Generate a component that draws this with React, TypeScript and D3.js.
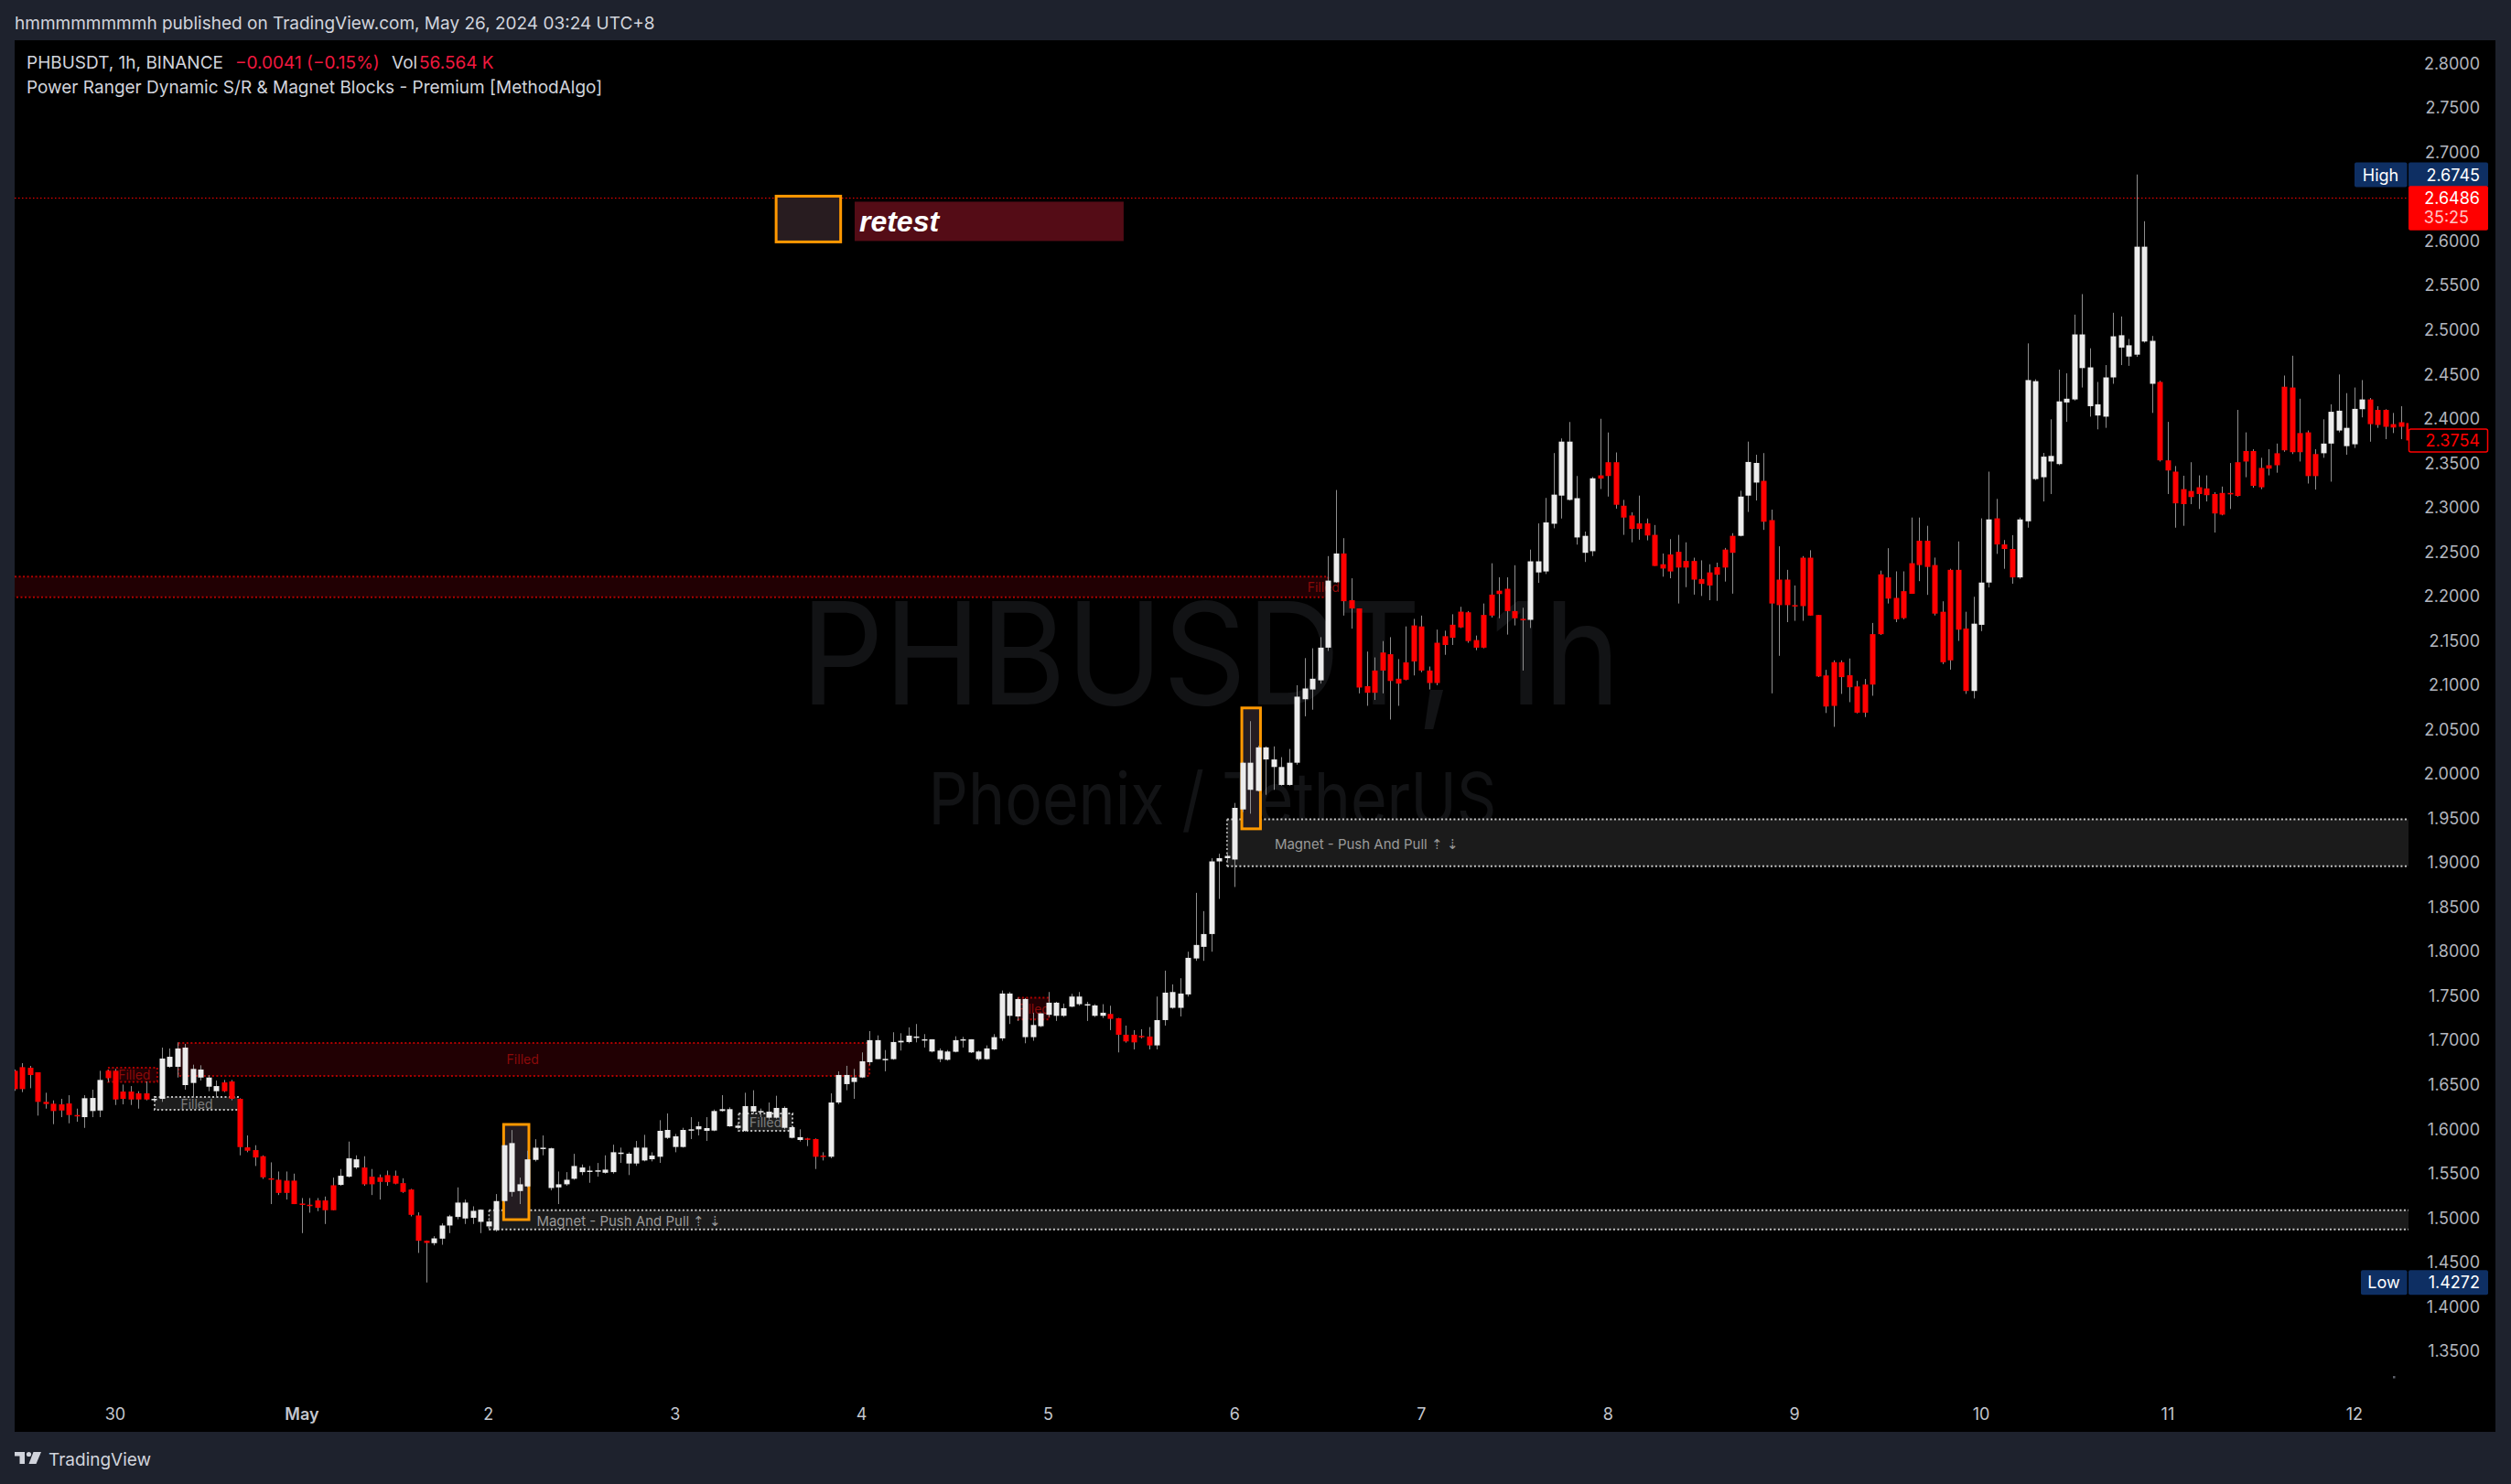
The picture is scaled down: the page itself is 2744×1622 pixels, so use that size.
import React, { useEffect } from 'react';
import * as d3 from 'd3';

// ---------- DATA (1h candles, [open, high, low, close]) ----------
const apr29 = [
  [1.645, 1.667, 1.643, 1.6656], [1.6697, 1.6742, 1.6416, 1.645], [1.6608, 1.6711, 1.646, 1.669],
  [1.6639, 1.6639, 1.6151, 1.6306], [1.6306, 1.6409, 1.623, 1.6282], [1.6285, 1.6323, 1.6055, 1.6203],
  [1.6209, 1.634, 1.6134, 1.6278], [1.6288, 1.6381, 1.6065, 1.6158], [1.6158, 1.623, 1.6082, 1.6151],
  [1.6134, 1.6381, 1.6013, 1.6347], [1.635, 1.6443, 1.6134, 1.6203], [1.6209, 1.6656, 1.6134, 1.6553],
  [1.6574, 1.6667, 1.6529, 1.6656],
];
const apr30 = [
  [1.6656, 1.6677, 1.6271, 1.6333], [1.634, 1.6501, 1.6278, 1.6422], [1.6422, 1.6484, 1.6271, 1.6333],
  [1.6333, 1.6426, 1.623, 1.6402], [1.6402, 1.6536, 1.6323, 1.6333], [1.6335, 1.6357, 1.6306, 1.634],
  [1.634, 1.6917, 1.6306, 1.6794], [1.6814, 1.6907, 1.669, 1.6701], [1.6701, 1.6976, 1.658, 1.6907],
  [1.6917, 1.6958, 1.6443, 1.6495], [1.6519, 1.6725, 1.6357, 1.6677], [1.667, 1.6718, 1.6546, 1.658],
  [1.658, 1.6608, 1.6426, 1.6477], [1.6484, 1.6546, 1.6357, 1.6426], [1.6426, 1.6553, 1.6416, 1.6525],
  [1.6536, 1.6553, 1.6323, 1.634], [1.634, 1.6347, 1.5704, 1.5797], [1.5794, 1.5928, 1.5739, 1.5756],
  [1.5763, 1.5818, 1.5584, 1.568], [1.5694, 1.5704, 1.5439, 1.5457], [1.5445, 1.5625, 1.5155, 1.5439],
  [1.5429, 1.5522, 1.5257, 1.5281], [1.5281, 1.5522, 1.5206, 1.5419], [1.5419, 1.5498, 1.5155, 1.5155],
];
const may1 = [
  [1.5161, 1.5223, 1.4828, 1.5155], [1.5148, 1.5223, 1.5058, 1.5144], [1.5113, 1.5223, 1.5075, 1.5196],
  [1.5196, 1.524, 1.4931, 1.5086], [1.5086, 1.5453, 1.5086, 1.5367], [1.5371, 1.555, 1.5361, 1.5474],
  [1.5464, 1.5859, 1.5453, 1.567], [1.5659, 1.5704, 1.555, 1.5567], [1.5567, 1.5694, 1.5361, 1.5378],
  [1.5378, 1.555, 1.5257, 1.5464], [1.5457, 1.5488, 1.5206, 1.5405], [1.5402, 1.5532, 1.5361, 1.5481],
  [1.5474, 1.5532, 1.5378, 1.5385], [1.5391, 1.5446, 1.5281, 1.5292], [1.5319, 1.5326, 1.5017, 1.5034],
  [1.5027, 1.5062, 1.4605, 1.4742], [1.4742, 1.4745, 1.4272, 1.4718], [1.4715, 1.4794, 1.469, 1.4769],
  [1.4766, 1.4938, 1.4697, 1.4914], [1.4914, 1.5034, 1.4828, 1.5017], [1.501, 1.5343, 1.4983, 1.5172],
  [1.5172, 1.5206, 1.4931, 1.4993], [1.5, 1.513, 1.4931, 1.5079], [1.5092, 1.5096, 1.4828, 1.4955],
];
const may2 = [
  [1.4959, 1.5, 1.4862, 1.4904], [1.4862, 1.5268, 1.4845, 1.5189], [1.5189, 1.5824, 1.5172, 1.5818],
  [1.5842, 1.5989, 1.524, 1.5292], [1.5302, 1.5453, 1.5155, 1.5378], [1.5354, 1.5756, 1.5343, 1.5659],
  [1.5653, 1.5886, 1.5635, 1.579], [1.579, 1.5928, 1.5704, 1.5783], [1.5783, 1.579, 1.5309, 1.5336],
  [1.5343, 1.5522, 1.5155, 1.5378], [1.5378, 1.5515, 1.5361, 1.5429], [1.544, 1.5721, 1.5429, 1.5584],
  [1.5567, 1.5601, 1.5481, 1.5515], [1.5532, 1.5584, 1.5395, 1.5529], [1.5532, 1.5618, 1.5464, 1.5535],
  [1.5508, 1.5704, 1.5498, 1.5543], [1.5515, 1.5824, 1.5498, 1.5739], [1.5735, 1.5791, 1.5619, 1.5729],
  [1.5722, 1.5739, 1.5482, 1.5612], [1.5612, 1.5866, 1.5585, 1.5791], [1.5791, 1.5935, 1.5636, 1.5646],
  [1.566, 1.5739, 1.5636, 1.5701], [1.5688, 1.61, 1.5619, 1.598], [1.599, 1.6176, 1.5887, 1.5901],
];
const may3 = [
  [1.5918, 1.5945, 1.5739, 1.5798], [1.5798, 1.6014, 1.5791, 1.599], [1.5983, 1.6134, 1.5887, 1.5997],
  [1.5997, 1.6083, 1.5928, 1.6031], [1.6011, 1.6134, 1.5866, 1.598], [1.5983, 1.622, 1.5976, 1.6203],
  [1.6203, 1.6382, 1.6196, 1.6224], [1.6224, 1.6244, 1.6025, 1.6031], [1.6038, 1.6073, 1.5997, 1.6014],
  [1.598, 1.6409, 1.5969, 1.6258], [1.6258, 1.6437, 1.6169, 1.6196], [1.6196, 1.6231, 1.6134, 1.6203],
  [1.6196, 1.6299, 1.6107, 1.6128], [1.6128, 1.6375, 1.6117, 1.6238], [1.6238, 1.6255, 1.5997, 1.6014],
  [1.6021, 1.6038, 1.5894, 1.5901], [1.5908, 1.5997, 1.5859, 1.5877], [1.5894, 1.5901, 1.5808, 1.589],
  [1.5887, 1.5894, 1.555, 1.5688], [1.5688, 1.5739, 1.5646, 1.5701], [1.5688, 1.6402, 1.5671, 1.6299],
  [1.6299, 1.665, 1.6279, 1.6609], [1.6609, 1.6712, 1.6437, 1.6506], [1.653, 1.6677, 1.634, 1.6581],
];
const may4 = [
  [1.6581, 1.6863, 1.6574, 1.6763], [1.6753, 1.7103, 1.6719, 1.7001], [1.7001, 1.7055, 1.6787, 1.6787],
  [1.6787, 1.689, 1.665, 1.679], [1.6787, 1.709, 1.678, 1.698], [1.6976, 1.7079, 1.6884, 1.6994],
  [1.698, 1.7145, 1.6966, 1.7052], [1.7042, 1.7183, 1.6976, 1.7035], [1.7011, 1.7069, 1.6918, 1.7004],
  [1.7011, 1.7011, 1.6863, 1.6873], [1.6884, 1.6908, 1.6753, 1.6787], [1.678, 1.689, 1.677, 1.6873],
  [1.687, 1.7045, 1.6863, 1.7001], [1.7005, 1.7038, 1.6918, 1.7011], [1.7011, 1.7011, 1.6856, 1.6863],
  [1.6873, 1.6884, 1.677, 1.6787], [1.6787, 1.6942, 1.678, 1.6908], [1.6897, 1.7069, 1.689, 1.7035],
  [1.7021, 1.756, 1.6994, 1.7526], [1.7526, 1.7543, 1.7183, 1.7275], [1.7268, 1.7482, 1.7217, 1.7464],
  [1.7464, 1.7475, 1.6966, 1.7035], [1.7035, 1.731, 1.6994, 1.7172], [1.7158, 1.7303, 1.7148, 1.7303],
];
const may5 = [
  [1.7286, 1.7543, 1.7262, 1.7423], [1.7423, 1.7433, 1.7217, 1.7275], [1.7275, 1.7413, 1.7262, 1.7361],
  [1.7378, 1.7523, 1.7372, 1.7492], [1.7492, 1.7543, 1.7389, 1.7406], [1.7406, 1.7433, 1.7217, 1.7399],
  [1.7392, 1.7406, 1.7262, 1.7275], [1.7275, 1.7406, 1.7251, 1.731], [1.7296, 1.7389, 1.7114, 1.7241],
  [1.7248, 1.7251, 1.6863, 1.7062], [1.7062, 1.7165, 1.6973, 1.6987], [1.6976, 1.7114, 1.6897, 1.7062],
  [1.7049, 1.7124, 1.7021, 1.7035], [1.7042, 1.7148, 1.6897, 1.6942], [1.6942, 1.7492, 1.6897, 1.7227],
  [1.7227, 1.7784, 1.7165, 1.7536], [1.7543, 1.7629, 1.7354, 1.7365], [1.7365, 1.7698, 1.7268, 1.7526],
  [1.7516, 1.7997, 1.7492, 1.7928], [1.7921, 1.866, 1.7894, 1.8073], [1.8052, 1.8454, 1.7894, 1.8196],
  [1.8196, 1.905, 1.7997, 1.9014], [1.9014, 1.91, 1.8591, 1.905], [1.905, 1.91, 1.9, 1.9076],
];
const may6 = [
  [1.9035, 1.9672, 1.8726, 1.9617], [1.9599, 2.0135, 1.957, 2.0125], [2.0125, 2.0593, 1.9551, 1.982],
  [1.9808, 2.0317, 1.9801, 2.0298], [2.0298, 2.0309, 1.9764, 2.0162], [2.0162, 2.0309, 1.982, 2.0077],
  [2.0077, 2.0188, 1.9867, 1.9875], [1.9875, 2.028, 1.9867, 2.0125], [2.0125, 2.0998, 2.0103, 2.0869],
  [2.084, 2.1303, 2.0648, 2.0961], [2.095, 2.1414, 2.0722, 2.1071], [2.1053, 2.1539, 2.1016, 2.1421],
  [2.1421, 2.2452, 2.1384, 2.2176], [2.2157, 2.3196, 2.215, 2.2481], [2.2481, 2.2654, 2.1782, 2.1944],
  [2.1955, 2.2202, 2.1635, 2.1863], [2.1863, 2.1863, 2.0906, 2.0972], [2.0987, 2.1377, 2.0766, 2.0913],
  [2.0913, 2.1311, 2.0832, 2.1163], [2.1163, 2.1495, 2.0906, 2.1366], [2.1347, 2.1539, 2.0611, 2.1046],
  [2.1071, 2.1292, 2.0766, 2.1016], [2.106, 2.166, 2.1053, 2.1255], [2.1266, 2.1745, 2.1108, 2.1671],
];
const may7 = [
  [2.166, 2.1782, 2.1145, 2.1163], [2.1163, 2.1208, 2.095, 2.1023], [2.1023, 2.1624, 2.0998, 2.1476],
  [2.1451, 2.1612, 2.134, 2.155], [2.1532, 2.1797, 2.1451, 2.1679], [2.1649, 2.1881, 2.1642, 2.1826],
  [2.1819, 2.1833, 2.1476, 2.1495], [2.1506, 2.1557, 2.1392, 2.1421], [2.1421, 2.1918, 2.1414, 2.1789],
  [2.1782, 2.2371, 2.176, 2.2018], [2.2025, 2.2213, 2.1752, 2.2062], [2.2084, 2.2213, 2.1568, 2.1833],
  [2.1833, 2.2349, 2.1671, 2.1752], [2.1745, 2.187, 2.1163, 2.1738], [2.1734, 2.2525, 2.1642, 2.2393],
  [2.2393, 2.282, 2.215, 2.2268], [2.2279, 2.3107, 2.225, 2.2831], [2.2816, 2.3612, 2.2765, 2.3144],
  [2.3133, 2.3777, 2.2875, 2.3741], [2.3741, 2.3962, 2.3078, 2.3085], [2.3104, 2.3354, 2.2581, 2.2662],
  [2.268, 2.2728, 2.2386, 2.2489], [2.2507, 2.3343, 2.2452, 2.3328], [2.3325, 2.3998, 2.3207, 2.3361],
];
const may8 = [
  [2.3354, 2.3844, 2.3122, 2.3509], [2.3509, 2.3619, 2.2986, 2.303], [2.3019, 2.3085, 2.2691, 2.2886],
  [2.2909, 2.2945, 2.2607, 2.2758], [2.2758, 2.3133, 2.2636, 2.282], [2.282, 2.2875, 2.2629, 2.2684],
  [2.2691, 2.2802, 2.2341, 2.2341], [2.236, 2.2481, 2.222, 2.2312], [2.2279, 2.2643, 2.2202, 2.247],
  [2.25, 2.2691, 2.1918, 2.2323], [2.2323, 2.2607, 2.2102, 2.2397], [2.2397, 2.2434, 2.2018, 2.2187],
  [2.2194, 2.2404, 2.2003, 2.2139], [2.2121, 2.236, 2.1955, 2.2268], [2.2242, 2.2378, 2.1948, 2.2327],
  [2.2323, 2.2544, 2.2165, 2.2525], [2.2489, 2.271, 2.2029, 2.268], [2.268, 2.3188, 2.2673, 2.3122],
  [2.3133, 2.3741, 2.2949, 2.3512], [2.3501, 2.3593, 2.3078, 2.328], [2.3299, 2.3612, 2.2747, 2.2839],
  [2.2857, 2.2975, 2.0906, 2.1918], [2.19, 2.2562, 2.1329, 2.2187], [2.2187, 2.2297, 2.1708, 2.19],
];
const may9 = [
  [2.19, 2.2121, 2.1723, 2.1889], [2.1889, 2.2452, 2.1723, 2.2434], [2.2434, 2.2518, 2.1782, 2.1782],
  [2.1789, 2.1789, 2.109, 2.1097], [2.1108, 2.1171, 2.0685, 2.0758], [2.0765, 2.1278, 2.0529, 2.1257],
  [2.1257, 2.1278, 2.09, 2.1089], [2.111, 2.1299, 2.0807, 2.0975], [2.0984, 2.1047, 2.0681, 2.0689],
  [2.0689, 2.1068, 2.0639, 2.1005], [2.1005, 2.1699, 2.0879, 2.1573], [2.1573, 2.2288, 2.1564, 2.2246],
  [2.2212, 2.2541, 2.1918, 2.1973], [2.1981, 2.228, 2.1708, 2.1741], [2.1754, 2.228, 2.1741, 2.2057],
  [2.2027, 2.2886, 2.2027, 2.2372], [2.2351, 2.2886, 2.217, 2.2625], [2.2625, 2.2793, 2.2015, 2.233],
  [2.2351, 2.2435, 2.1783, 2.1804], [2.1825, 2.1943, 2.1236, 2.1257], [2.1278, 2.2309, 2.1173, 2.2297],
  [2.2297, 2.2617, 2.1497, 2.1623], [2.1636, 2.1825, 2.09, 2.0933], [2.0933, 2.1994, 2.0849, 2.1691],
];
const may10 = [
  [2.1678, 2.2877, 2.1607, 2.2154], [2.2154, 2.3403, 2.2099, 2.2865], [2.2877, 2.3096, 2.2477, 2.2583],
  [2.2583, 2.2633, 2.2309, 2.2532], [2.2532, 2.2688, 2.2141, 2.2212], [2.2212, 2.2886, 2.2196, 2.2865],
  [2.2844, 2.4847, 2.2772, 2.4434], [2.4422, 2.4443, 2.3307, 2.3319], [2.334, 2.3614, 2.3067, 2.3572],
  [2.358, 2.3992, 2.3151, 2.3517], [2.3488, 2.4552, 2.3475, 2.4194], [2.4182, 2.451, 2.3963, 2.4224],
  [2.4216, 2.5171, 2.4203, 2.4948], [2.4948, 2.5402, 2.435, 2.4569], [2.4577, 2.4792, 2.4022, 2.414],
  [2.4161, 2.4413, 2.3879, 2.4035], [2.4022, 2.4603, 2.3896, 2.4464], [2.4464, 2.5192, 2.4392, 2.4927],
  [2.4939, 2.515, 2.4603, 2.48], [2.4826, 2.4897, 2.4594, 2.4699], [2.472, 2.6749, 2.4695, 2.5936],
  [2.5936, 2.6223, 2.4855, 2.4868], [2.4876, 2.4931, 2.4064, 2.4392], [2.4413, 2.4426, 2.3517, 2.353],
];
const may11 = [
  [2.353, 2.3963, 2.3151, 2.3416], [2.3403, 2.3466, 2.2772, 2.3046], [2.3037, 2.3357, 2.2793, 2.3206],
  [2.3185, 2.3509, 2.3037, 2.3117], [2.3151, 2.3361, 2.2982, 2.3227], [2.3214, 2.3361, 2.3067, 2.3138],
  [2.3151, 2.3172, 2.2717, 2.2932], [2.2919, 2.3235, 2.2911, 2.3163], [2.3163, 2.35, 2.2982, 2.316],
  [2.313, 2.4098, 2.3121, 2.3509], [2.3517, 2.3845, 2.334, 2.3635], [2.3635, 2.3656, 2.3222, 2.3243],
  [2.3227, 2.3559, 2.3206, 2.3445], [2.3437, 2.3656, 2.3361, 2.3475], [2.3475, 2.3719, 2.3391, 2.361],
  [2.3643, 2.4485, 2.3626, 2.4359], [2.435, 2.4708, 2.3601, 2.3622], [2.3622, 2.4224, 2.3517, 2.3837],
  [2.3845, 2.3866, 2.3269, 2.3353], [2.3353, 2.3656, 2.3201, 2.3601], [2.361, 2.3992, 2.3559, 2.3719],
  [2.3719, 2.4161, 2.329, 2.4077], [2.4089, 2.4497, 2.3845, 2.3866], [2.3896, 2.4287, 2.3593, 2.369],
];
const may12 = [
  [2.3711, 2.435, 2.3669, 2.411], [2.4106, 2.4434, 2.4014, 2.4216], [2.4216, 2.4232, 2.374, 2.3938],
  [2.3929, 2.414, 2.3896, 2.4098], [2.4098, 2.4106, 2.3769, 2.3908], [2.39, 2.4064, 2.3837, 2.3938],
  [2.3959, 2.414, 2.3769, 2.3908], [2.395, 2.3955, 2.374, 2.3754],
];
const dayBlocks = [apr29, apr30, may1, may2, may3, may4, may5, may6, may7, may8, may9, may10, may11, may12];
const FIRST_BAR = -13; // bar index 0 = Apr 30 00:00 (UTC+8)

// indicator candle colouring (trend regime), run-length encoded
const trendRuns: [string, number][] = [
  ['bear', 9], ['bull', 3], ['bear', 6], ['bull', 9], ['bear', 15], ['bull', 3], ['bear', 9],
  ['bull', 48], ['bear', 3], ['bull', 36], ['bear', 6], ['bull', 24], ['bear', 24], ['bull', 9],
  ['bear', 18], ['bull', 3], ['bear', 27], ['bull', 3], ['bear', 3], ['bull', 18], ['bear', 21],
  ['bull', 6], ['bear', 6],
];

const priceTicks = [2.8, 2.75, 2.7, 2.65, 2.6, 2.55, 2.5, 2.45, 2.4, 2.35, 2.3, 2.25, 2.2, 2.15, 2.1,
  2.05, 2.0, 1.95, 1.9, 1.85, 1.8, 1.75, 1.7, 1.65, 1.6, 1.55, 1.5, 1.45, 1.4, 1.35];
const dayLabels = ['30', 'May', '2', '3', '4', '5', '6', '7', '8', '9', '10', '11', '12'];

// S/R zones (bar index range, price range)
const supplyZones = [
  { from: -0.95, to: 5.4, top: 1.669, bottom: 1.653, labelAt: 2.45 },
  { from: 8.1, to: 97.0, top: 1.6969, bottom: 1.6598, labelAt: 52.4 },
  { from: 116.1, to: 120.1, top: 1.748, bottom: 1.7235, labelAt: 118.1 },
  { from: -14, to: 156.0, top: 2.222, bottom: 2.199, labelAt: 155.4 },
];
const demandZones = [
  { from: 5.06, to: 15.9, top: 1.6361, bottom: 1.6216 },
  { from: 80.2, to: 87.1, top: 1.6175, bottom: 1.5979 },
];
const magnetZones = [
  { from: 48.07, top: 1.5086, bottom: 1.4869, boxFrom: 49.95, boxTo: 53.2, boxTop: 1.6052, boxBottom: 1.498 },
  { from: 143.0, top: 1.9488, bottom: 1.896, boxFrom: 144.9, boxTo: 147.3, boxTop: 2.0742, boxBottom: 1.9381 },
];
const retestBox = { from: 85.0, to: 93.3, top: 2.6505, bottom: 2.599 };
const retestTag = { from: 95.1, to: 129.7, top: 2.6443, bottom: 2.6 };
const lastPrice = 2.6486;
const closePrice = 2.3754;
const highPrice = 2.6745;
const lowPrice = 1.4272;

const FONT = "Inter, 'Noto Sans', Roboto, sans-serif";

export default function App() {
  useEffect(() => {
    document.body.style.margin = '0';
    document.body.style.background = '#1e222d';
  }, []);

  const bars = dayBlocks.flat().map((b, k) => ({ i: FIRST_BAR + k, o: b[0], h: b[1], l: b[2], c: b[3] }));
  const trend: string[] = trendRuns.flatMap(([t, n]) => Array(n).fill(t));

  const PL = 16, PR = 2632, PT = 44, PB = 1565, AXR = 2727;
  const x = d3.scaleLinear().domain([0, 288]).range([126, 2572.8]);
  const y = d3.scaleLinear().domain([1.35, 2.8]).range([1476.7, 69.3]);

  const bodyW = 6;
  const red = '#ff0000';
  const white = '#ececec';

  return (
    <div style={{ position: 'fixed', left: 0, top: 0, width: 2744, height: 1622, background: '#1e222d' }}>
      <svg width={2744} height={1622} style={{ display: 'block' }} fontFamily={FONT}>
        <defs>
          <clipPath id="plot">
            <rect x={PL} y={PT} width={PR - PL} height={PB - PT} />
          </clipPath>
        </defs>
        <rect x={0} y={0} width={2744} height={1622} fill="#1e222d" />
        {/* header */}
        <text x={16} y={25} dominantBaseline="central" fontSize={19} fill="#d1d4dc">
          hmmmmmmmmh published on TradingView.com, May 26, 2024 03:24 UTC+8
        </text>
        {/* chart canvas */}
        <rect x={PL} y={PT} width={AXR - PL} height={PB - PT} fill="#000000" />

        {/* watermark */}
        <text x={1323} y={770} textAnchor="middle" fontSize={155} fill="#121315"
          textLength={896} lengthAdjust="spacingAndGlyphs">PHBUSDT, 1h</text>
        <text x={1325} y={901} textAnchor="middle" fontSize={79} fill="#121315"
          textLength={621} lengthAdjust="spacingAndGlyphs">Phoenix / TetherUS</text>

        <g clipPath="url(#plot)">
          {/* supply zones */}
          {supplyZones.map((z, k) => (
            <g key={'s' + k}>
              <rect x={x(z.from)} y={y(z.top)} width={x(z.to) - x(z.from)} height={y(z.bottom) - y(z.top)}
                fill="#210003" stroke="#b00000" strokeWidth={2} strokeDasharray="2 2.5" />
              <text x={x(z.labelAt)} y={(y(z.top) + y(z.bottom)) / 2} textAnchor="middle" dominantBaseline="central"
                fontSize={14} fill="#8c0a0a">Filled</text>
            </g>
          ))}
          {/* demand zones */}
          {demandZones.map((z, k) => (
            <g key={'d' + k}>
              <rect x={x(z.from)} y={y(z.top)} width={x(z.to) - x(z.from)} height={y(z.bottom) - y(z.top)}
                fill="#1d1d1d" stroke="#bdbdbd" strokeWidth={2} strokeDasharray="2 2.5" />
              <text x={(x(z.from) + x(z.to)) / 2} y={(y(z.top) + y(z.bottom)) / 2} textAnchor="middle"
                dominantBaseline="central" fontSize={14} fill="#7d7d7d">Filled</text>
            </g>
          ))}
          {/* magnet zones */}
          {magnetZones.map((z, k) => (
            <g key={'m' + k}>
              <rect x={x(z.from)} y={y(z.top)} width={PR - x(z.from)} height={y(z.bottom) - y(z.top)} fill="#1b1b1b" />
              <line x1={x(z.from)} x2={PR} y1={y(z.top)} y2={y(z.top)} stroke="#c8c8c8" strokeWidth={2} strokeDasharray="2 2.5" />
              <line x1={x(z.from)} x2={PR} y1={y(z.bottom)} y2={y(z.bottom)} stroke="#c8c8c8" strokeWidth={2} strokeDasharray="2 2.5" />
              <line x1={x(z.from)} x2={x(z.from)} y1={y(z.top)} y2={y(z.bottom)} stroke="#c8c8c8" strokeWidth={1.5} strokeDasharray="2 2.5" />
              <text x={x(z.from) + 52} y={(y(z.top) + y(z.bottom)) / 2 + 1} dominantBaseline="central"
                fontSize={15} fill="#9a9a9a">Magnet - Push And Pull ⇡ ⇣</text>
              <rect x={x(z.boxFrom)} y={y(z.boxTop)} width={x(z.boxTo) - x(z.boxFrom)} height={y(z.boxBottom) - y(z.boxTop)}
                fill="#241c21" stroke="#ff9800" strokeWidth={3} />
            </g>
          ))}

          {/* last price line */}
          <line x1={PL} x2={PR} y1={Math.round(y(lastPrice)) + 0.5} y2={Math.round(y(lastPrice)) + 0.5}
            stroke="#ff0000" strokeWidth={1} strokeDasharray="1.5 2.5" />

          {/* candles */}
          {bars.map((b, k) => {
            const cx = Math.round(x(b.i));
            const top = y(Math.max(b.o, b.c));
            const bot = y(Math.min(b.o, b.c));
            return (
              <g key={'c' + k}>
                <line x1={cx + 0.5} x2={cx + 0.5} y1={y(b.h)} y2={y(b.l)} stroke="#8e8e8e" strokeWidth={1} />
                <rect x={cx + 0.5 - bodyW / 2} y={top} width={bodyW} height={Math.max(1.5, bot - top)}
                  fill={trend[k] === 'bull' ? white : red} />
              </g>
            );
          })}
        </g>

        {/* retest annotation */}
        <rect x={x(retestBox.from)} y={y(retestBox.top)} width={x(retestBox.to) - x(retestBox.from)}
          height={y(retestBox.bottom) - y(retestBox.top)} fill="#281c20" stroke="#ff9800" strokeWidth={3} />
        <rect x={x(retestTag.from)} y={y(retestTag.top)} width={x(retestTag.to) - x(retestTag.from)}
          height={y(retestTag.bottom) - y(retestTag.top)} fill="#540c16" />
        <text x={x(retestTag.from) + 5} y={y(retestTag.bottom) - 10} fontSize={32} fontWeight="bold" fontStyle="italic"
          fontFamily="'Liberation Sans', Arial, sans-serif" fill="#ffffff">retest</text>

        {/* legend */}
        <text x={29} y={68} dominantBaseline="central" fontSize={19} fill="#d1d4dc">PHBUSDT, 1h, BINANCE</text>
        <text x={257} y={68} dominantBaseline="central" fontSize={19} fill="#f0193f">−0.0041 (−0.15%)</text>
        <text x={428} y={68} dominantBaseline="central" fontSize={19} fill="#d1d4dc">Vol</text>
        <text x={458} y={68} dominantBaseline="central" fontSize={19} fill="#f0193f">56.564 K</text>
        <text x={29} y={95.5} dominantBaseline="central" fontSize={19} fill="#d1d4dc">
          Power Ranger Dynamic S/R &amp; Magnet Blocks - Premium [MethodAlgo]
        </text>

        {/* price axis */}
        {priceTicks.map((p) => (
          <text key={'p' + p} x={2710} y={y(p)} textAnchor="end" dominantBaseline="central" fontSize={18} fill="#b2b5be">
            {p.toFixed(4)}
          </text>
        ))}
        {/* time axis */}
        {dayLabels.map((d, k) => (
          <text key={'t' + k} x={x(k * 24)} y={1545} textAnchor="middle" dominantBaseline="central" fontSize={18}
            fill="#c3c6ce" fontWeight={d === 'May' ? 600 : 400}>{d}</text>
        ))}

        {/* High label */}
        <rect x={2573} y={y(highPrice) - 13.5} width={57.5} height={27} rx={2} fill="#0e2f63" />
        <text x={2601.5} y={y(highPrice)} textAnchor="middle" dominantBaseline="central" fontSize={18} fill="#ffffff">High</text>
        <rect x={2632} y={y(highPrice) - 13.5} width={87} height={27} rx={2} fill="#0e2f63" />
        <text x={2710} y={y(highPrice)} textAnchor="end" dominantBaseline="central" fontSize={18} fill="#ffffff">{highPrice.toFixed(4)}</text>
        {/* last price label */}
        <rect x={2632} y={y(lastPrice) - 13} width={87} height={48.5} rx={2} fill="#ff0000" />
        <text x={2710} y={y(lastPrice)} textAnchor="end" dominantBaseline="central" fontSize={18} fill="#ffffff">{lastPrice.toFixed(4)}</text>
        <text x={2698} y={y(lastPrice) + 21.5} textAnchor="end" dominantBaseline="central" fontSize={18} fill="#ffc4c4">35:25</text>
        {/* close label */}
        <rect x={2632.5} y={y(closePrice) - 12.5} width={86} height={25} rx={2} fill="#000000" stroke="#ff0000" strokeWidth={1.5} />
        <text x={2710} y={y(closePrice)} textAnchor="end" dominantBaseline="central" fontSize={18} fill="#ff0000">{closePrice.toFixed(4)}</text>
        {/* Low label */}
        <rect x={2580} y={y(lowPrice) - 13.5} width={50.5} height={27} rx={2} fill="#0e2f63" />
        <text x={2605} y={y(lowPrice)} textAnchor="middle" dominantBaseline="central" fontSize={18} fill="#ffffff">Low</text>
        <rect x={2632} y={y(lowPrice) - 13.5} width={87} height={27} rx={2} fill="#0e2f63" />
        <text x={2710} y={y(lowPrice)} textAnchor="end" dominantBaseline="central" fontSize={18} fill="#ffffff">{lowPrice.toFixed(4)}</text>

        <rect x={2615} y={1504} width={2.5} height={2.5} fill="#5d606b" />

        {/* footer logo */}
        <g fill="#d1d4dc">
          <rect x={16} y={1587} width={11} height={4.5} />
          <rect x={21.5} y={1587} width={5.5} height={13} />
          <circle cx={31.5} cy={1589.5} r={2.6} />
          <polygon points="36.5,1587 45,1587 39.5,1600 31.5,1600" />
        </g>
        <text x={53} y={1595} dominantBaseline="central" fontSize={19} fill="#d1d4dc">TradingView</text>
      </svg>
    </div>
  );
}
